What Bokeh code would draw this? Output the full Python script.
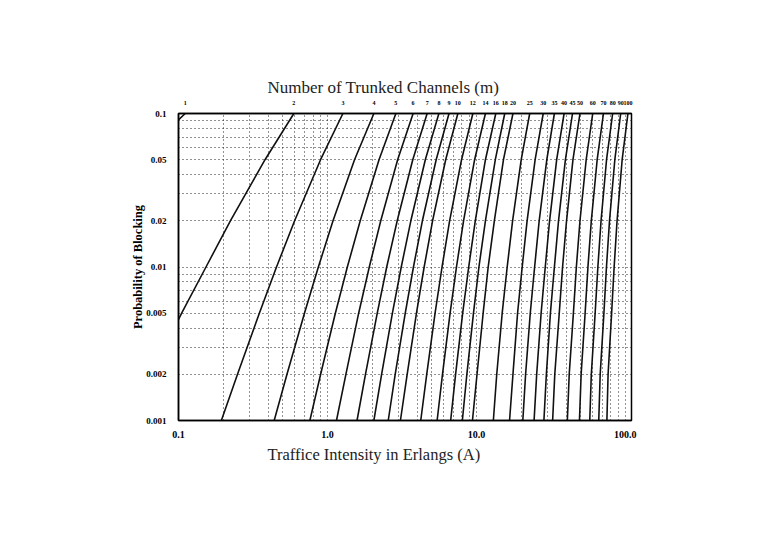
from bokeh.plotting import figure
from bokeh.models import LogAxis, FixedTicker, Range1d, ColumnDataSource, Title
from bokeh.embed import file_html
from bokeh.resources import INLINE

# Number of trunked channels (one curve each)
channels = [1, 2, 3, 4, 5, 6, 7, 8, 9, 10, 12, 14, 16, 18, 20,
            25, 30, 35, 40, 45, 50, 60, 70, 80, 90, 100]

# Probability of blocking levels at which the traffic was read
blocking = [0.001, 0.002, 0.005, 0.01, 0.02, 0.05, 0.1]

# Traffic intensity (Erlangs) for each channel count, at each blocking level
traffic_b0001 = [0.001, 0.0458, 0.194, 0.439, 0.762, 1.15, 1.58, 2.05, 2.56, 3.09,
                 4.23, 5.45, 6.72, 8.05, 9.41, 13.0, 16.7, 20.5, 24.4, 28.4,
                 32.5, 40.8, 49.2, 57.7, 66.3, 75.2]
traffic_b0002 = [0.002, 0.0653, 0.249, 0.535, 0.900, 1.33, 1.80, 2.31, 2.85, 3.43,
                 4.64, 5.92, 7.25, 8.63, 10.1, 13.7, 17.6, 21.4, 25.4, 29.5,
                 33.6, 42.0, 50.5, 59.1, 67.8, 76.6]
traffic_b0005 = [0.005, 0.105, 0.349, 0.701, 1.13, 1.62, 2.16, 2.73, 3.33, 3.96,
                 5.28, 6.66, 8.09, 9.56, 11.1, 14.9, 18.9, 23.0, 27.2, 31.4,
                 36.0, 44.8, 53.7, 62.7, 71.8, 80.9]
traffic_b0010 = [0.0101, 0.153, 0.455, 0.869, 1.36, 1.91, 2.50, 3.13, 3.78, 4.46,
                 5.88, 7.35, 8.88, 10.4, 12.0, 16.1, 20.3, 24.6, 29.0, 33.4,
                 37.9, 46.9, 56.1, 65.4, 74.7, 84.1]
traffic_b0020 = [0.0204, 0.223, 0.602, 1.09, 1.66, 2.28, 2.94, 3.63, 4.34, 5.08,
                 6.61, 8.20, 9.83, 11.5, 13.2, 17.5, 21.9, 26.4, 31.0, 35.6,
                 40.3, 49.6, 59.1, 68.7, 78.3, 88.0]
traffic_b0050 = [0.0526, 0.381, 0.899, 1.52, 2.22, 2.96, 3.74, 4.54, 5.37, 6.22,
                 7.95, 9.73, 11.5, 13.4, 15.2, 20.0, 24.8, 29.7, 34.6, 39.6,
                 44.5, 54.6, 64.7, 74.8, 85.0, 95.2]
traffic_b0100 = [0.111, 0.595, 1.27, 2.05, 2.88, 3.76, 4.67, 5.60, 6.55, 7.51,
                 9.47, 11.5, 13.5, 15.5, 17.6, 22.8, 28.1, 33.4, 38.8, 44.2,
                 49.6, 60.4, 71.3, 82.2, 93.1, 104.1]

# tick labels
x_ticks = [0.1, 1.0, 10.0, 100.0]
x_tick_labels = ["0.1", "1.0", "10.0", "100.0"]
y_tick_labels = ["0.001", "0.002", "0.005", "0.01", "0.02", "0.05", "0.1"]

columns = [traffic_b0001, traffic_b0002, traffic_b0005, traffic_b0010,
           traffic_b0020, traffic_b0050, traffic_b0100]
xs = [[col[i] for col in columns] for i in range(len(channels))]
ys = [list(blocking) for _ in channels]
src = ColumnDataSource(dict(xs=xs, ys=ys, m=channels))

SERIF = "Liberation Serif"

p = figure(width=661, height=500,
           x_axis_type="log", y_axis_type="log",
           x_range=Range1d(0.1, 110), y_range=Range1d(0.001, 0.1),
           output_backend="svg", toolbar_location=None,
           min_border_left=178, min_border_right=30,
           min_border_top=113, min_border_bottom=80)
p.background_fill_color = "white"
p.outline_line_color = "black"
p.outline_line_width = 1.5

p.multi_line(xs="xs", ys="ys", source=src, line_color="#111111", line_width=1.6)

# grid lines at every 1..9 x decade
gx = [d * 10.0 ** k for k in range(-1, 2) for d in range(1, 10)] + [100.0]
gy = [d * 10.0 ** k for k in range(-3, -1) for d in range(1, 10)] + [0.1]
p.xgrid.ticker = FixedTicker(ticks=gx)
p.ygrid.ticker = FixedTicker(ticks=gy)
for g in (p.xgrid, p.ygrid):
    g.grid_line_color = "#222222"
    g.grid_line_alpha = 1.0
    g.grid_line_dash = "1 3"
    g.grid_line_width = 1

# bottom axis
xa = p.xaxis[0]
xa.ticker = FixedTicker(ticks=x_ticks)
xa.major_label_overrides = {t: l for t, l in zip(x_ticks, x_tick_labels)}

# left axis
ya = p.yaxis[0]
ya.ticker = FixedTicker(ticks=blocking)
ya.major_label_overrides = {t: l for t, l in zip(blocking, y_tick_labels)}
ya.axis_label = "Probability of Blocking"

# top axis: channel counts at the 0.1 blocking crossing
top = LogAxis(ticker=FixedTicker(ticks=traffic_b0100),
              major_label_overrides={t: str(m) for t, m in zip(traffic_b0100, channels)})
p.add_layout(top, "above")

for ax in (xa, ya, top):
    ax.axis_line_color = "black"
    ax.axis_line_width = 1.5
    ax.major_tick_line_color = None
    ax.minor_tick_line_color = None
    ax.major_label_text_font = SERIF
    ax.major_label_text_font_style = "bold"
    ax.major_label_text_color = "black"

xa.major_label_text_font_size = "10px"
xa.major_label_standoff = 4

ya.major_label_text_font_size = "9px"
ya.major_label_standoff = 6
ya.axis_label_text_font = SERIF
ya.axis_label_text_font_size = "12.5px"
ya.axis_label_text_font_style = "bold"
ya.axis_label_text_color = "black"
ya.axis_label_standoff = -2

top.major_label_text_font_size = "6px"
top.major_label_standoff = 3

x_title = Title(text="Traffice Intensity in Erlangs (A)", align="left", offset=89,
                text_font=SERIF, text_font_size="16.5px", text_font_style="normal",
                text_color="#222222", standoff=5)
p.add_layout(x_title, "below")

top_title = Title(text="Number of Trunked Channels (m)", align="left", offset=89,
                  text_font=SERIF, text_font_size="17px", text_font_style="normal",
                  text_color="#222222", standoff=2)
p.add_layout(top_title, "above")

open("out.html", "w").write(file_html(p, INLINE))
